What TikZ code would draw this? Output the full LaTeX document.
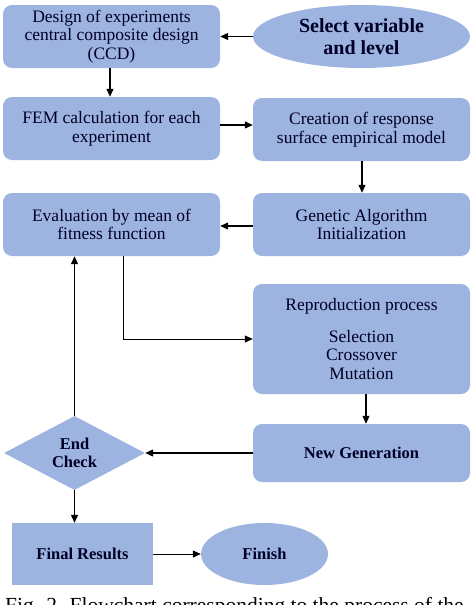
\documentclass[tikz,border=0pt]{standalone}
\usepackage{fontspec}
\setmainfont{Liberation Serif}
\usetikzlibrary{shapes.geometric,arrows.meta}
\definecolor{boxblue}{RGB}{158,180,224}
\tikzset{
  base/.style={fill=boxblue, draw=none, align=center, inner sep=0pt,
    font=\fontsize{17.5}{18.5}\selectfont, text=black!85!blue},
  rbox/.style={base, rounded corners=9pt, minimum width=217pt, minimum height=63pt},
  oval/.style={base, ellipse},
  dmd/.style={base, diamond, shape aspect=1.9, minimum width=141pt, minimum height=74pt},
  sbox/.style={base, rectangle, minimum width=141pt, minimum height=62pt},
  arr/.style={-{Triangle[length=8pt,width=7pt]}, line width=1.1pt},
  ln/.style={line width=0.8pt}
}
\begin{document}
\begin{tikzpicture}[x=1pt,y=-1pt]
\useasboundingbox (0,0) rectangle (474,605);
\clip (0,0) rectangle (474,605);
\fill[white] (0,0) rectangle (474,605);
\node[rbox] (d1) at (111.5,36.5) {Design of experiments\\central composite design\\(CCD)};
\node[oval, minimum width=217pt, minimum height=63pt, font=\bfseries\fontsize{20}{22}\selectfont] (sel) at (361.5,36.5) {Select variable\\and level};
\node[rbox] (fem) at (111.5,128.5) {FEM calculation for each\\experiment};
\node[rbox] (cre) at (361.5,129.5) {Creation of response\\surface empirical model};
\node[rbox] (eva) at (111.5,224.5) {Evaluation by mean of\\fitness function};
\node[rbox] (gen) at (361.5,224.5) {Genetic Algorithm\\Initialization};
\node[rbox, minimum height=110pt] (rep) at (361.5,339) {Reproduction process\\[13pt]Selection\\Crossover\\Mutation};
\node[rbox, minimum height=58pt, font=\bfseries\fontsize{16.5}{18.5}\selectfont] (new) at (361.5,453) {New Generation};
\node[dmd, font=\bfseries\fontsize{16.5}{18.5}\selectfont] (end) at (74.5,453) {End\\Check};
\node[sbox, font=\bfseries\fontsize{16.5}{18.5}\selectfont] (fin) at (82.5,554) {Final Results};
\node[oval, minimum width=127pt, minimum height=62pt, font=\bfseries\fontsize{16.5}{18.5}\selectfont] (finish) at (264.5,554) {Finish};
\node[anchor=base west, inner sep=0pt, font=\fontsize{21.5}{23}\selectfont] (cap) at (5,612) {Fig. 2. Flowchart corresponding to the process of the};

\draw[arr] (sel.west) -- (d1.east);
\draw[arr] (d1.south -| 110,0) -- (fem.north -| 110,0);
\draw[arr] (fem.east |- 0,125) -- (cre.west |- 0,125);
\draw[arr] (cre.south -| 362,0) -- (gen.north -| 362,0);
\draw[arr] (gen.west |- 0,226) -- (eva.east |- 0,226);
\draw[ln, -{Triangle[length=8pt,width=7pt]}] (eva.south -| 123,0) |- (rep.west |- 0,339);
\draw[arr] (rep.south -| 366,0) -- (new.north -| 366,0);
\draw[arr] (new.west) -- (end.east);
\draw[arr] (end.north) -- (eva.south -| end.north);
\draw[arr] (end.south) -- (fin.north -| end.south);
\draw[ln, -{Triangle[length=8pt,width=7pt]}] (fin.east) -- (finish.west);
\end{tikzpicture}
\end{document}
